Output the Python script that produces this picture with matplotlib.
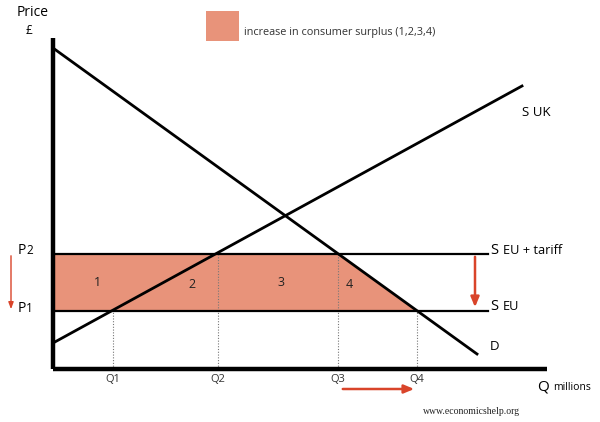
import matplotlib
matplotlib.use("Agg")
import matplotlib.pyplot as plt
import numpy as np

# ---- data (quantity / price units; origin at axis corner) ----
demand_q = [0, 424]
demand_p = [321, 15]
s_uk_q = [0, 469]
s_uk_p = [26, 283]
p1 = 58
p2 = 115
s_eu_end = 435
q_labels = ["Q1", "Q2", "Q3", "Q4"]
q_values = [60, 165, 285, 364]
area_labels = ["1", "2", "3", "4"]
area_q = [44, 139, 228, 296]
area_p = [87, 85, 86, 85]
x_axis_len = 494
y_axis_len = 331

fill_col = "#e8937a"
red = "#d9442a"
font = ["Open Sans", "DejaVu Sans"]

fig = plt.figure(figsize=(6.0, 4.22), dpi=100)
ax = fig.add_axes([0, 0, 1, 1])
ax.set_xlim(-53, 547)
ax.set_ylim(-53, 369)
ax.axis("off")

# shaded consumer surplus increase: between P1 and P2, left of demand
def demand_q_at(p):
    return np.interp(p, demand_p[::-1], demand_q[::-1])

ps = np.linspace(p1, p2, 50)
ax.fill_betweenx(ps, 0, demand_q_at(ps), color=fill_col, lw=0, zorder=1)

# axes
ax.plot([0, 0], [0, y_axis_len], color="black", lw=3.2, solid_capstyle="butt", zorder=5)
ax.plot([0, x_axis_len], [0, 0], color="black", lw=3.2, solid_capstyle="butt", zorder=5)

# curves
ax.plot(demand_q, demand_p, color="black", lw=2, zorder=4)
ax.plot(s_uk_q, s_uk_p, color="black", lw=2, zorder=4)
ax.plot([0, s_eu_end], [p2, p2], color="black", lw=1.6, zorder=4)
ax.plot([0, s_eu_end], [p1, p1], color="black", lw=1.6, zorder=4)

# dotted verticals
q_heights = [p1, p2, p2, p1]
for q, h, lab in zip(q_values, q_heights, q_labels):
    ax.plot([q, q], [0, h], color="#777777", lw=0.8, ls=(0, (1, 1.5)), zorder=3)
    ax.text(q, -10, lab, ha="center", va="center", fontsize=8, color="#333333", family=font)

for lab, q, p in zip(area_labels, area_q, area_p):
    ax.text(q, p, lab, ha="center", va="center", fontsize=9, color="#222222", family=font)

# curve labels
ax.text(437, p2 + 3, "S", ha="left", va="center", fontsize=10.5, family=font)
ax.text(450, p2 + 3, "EU + tariff", ha="left", va="center", fontsize=9.2, family=font)
ax.text(437, p1 + 5, "S", ha="left", va="center", fontsize=10.5, family=font)
ax.text(450, p1 + 5, "EU", ha="left", va="center", fontsize=9.2, family=font)
ax.text(437, 23, "D", ha="left", va="center", fontsize=9.5, family=font)
ax.text(469, 257, "S UK", ha="left", va="center", fontsize=9.5, family=font)

# axis labels
ax.text(-20, 357, "Price", ha="center", va="center", fontsize=10, family=font)
ax.text(-24, 338, "£", ha="center", va="center", fontsize=8.5, family=font)
ax.text(-35, p2 + 4, "P", ha="left", va="center", fontsize=10, family=font)
ax.text(-27, p2 + 3, "2", ha="left", va="center", fontsize=8.5, family=font)
ax.text(-35, p1 + 3, "P", ha="left", va="center", fontsize=10, family=font)
ax.text(-27, p1 + 2, "1", ha="left", va="center", fontsize=8.5, family=font)
ax.text(484, -18, "Q", ha="left", va="center", fontsize=11, family=font)
ax.text(500, -19, "millions", ha="left", va="center", fontsize=7.5, family=font)
ax.text(418, -43, "www.economicshelp.org", ha="center", va="center", fontsize=7,
        family=["Liberation Serif", "DejaVu Serif"], color="#222222")

# red arrows
arrow_kw = dict(arrowstyle="-|>,head_length=0.6,head_width=0.25", color=red, lw=1.8)
ax.annotate("", xy=(422, p1 + 1), xytext=(422, p2), arrowprops=arrow_kw)
ax.annotate("", xy=(364, -20), xytext=(287, -20), arrowprops=arrow_kw)
ax.annotate("", xy=(-42, p1 - 1), xytext=(-42, p2 + 1),
            arrowprops=dict(arrowstyle="-|>,head_length=0.4,head_width=0.15", color=red, lw=1))

# legend box
ax.add_patch(plt.Rectangle((153, 328), 33, 30, facecolor=fill_col, edgecolor="none"))
ax.text(191, 337, "increase in consumer surplus (1,2,3,4)", ha="left", va="center",
        fontsize=7.8, family=font, color="#333333")

fig.savefig("out.png", dpi=100)
